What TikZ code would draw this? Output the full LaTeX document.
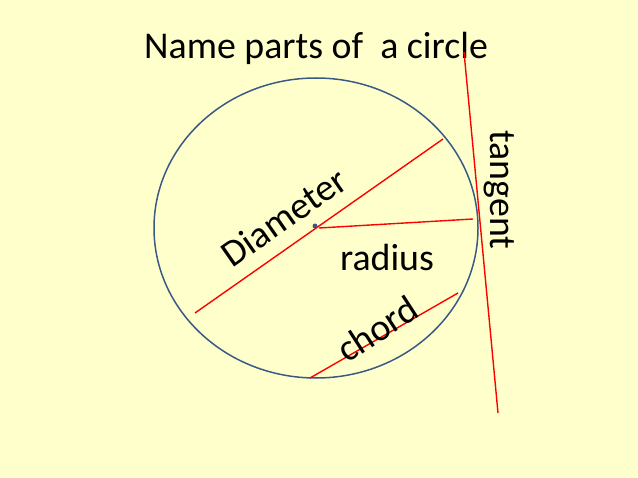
\documentclass[tikz,border=0pt]{standalone}
\usepackage{fontspec}
\setmainfont{Carlito}
\definecolor{paper}{HTML}{FFFFCC}
\definecolor{rim}{HTML}{3A5A86}

\begin{document}
\begin{tikzpicture}[x=1bp,y=-1bp,
  redline/.style={draw=red, line width=1.4bp},
  partname/.style={font=\fontsize{38}{42}\selectfont, inner sep=0pt}]
  \fill[paper] (0,0) rectangle (638,478);
  \useasboundingbox (0,0) rectangle (638,478);

% title
  \node[partname] (title) at (316,48) {Name parts of~ a circle};

% the circle and its centre
  \coordinate (centre) at (316,228);
  \draw[rim, line width=1.5bp] (centre) ellipse [x radius=162, y radius=150];
  \fill[rim] (315,226) circle (2.5);

% end points of the lines
  \coordinate (diamA) at (195,313);
  \coordinate (diamB) at (443,139);
  \coordinate (radA) at (319,228);
  \coordinate (radB) at (473,219);
  \coordinate (chordA) at (310,378);
  \coordinate (chordB) at (458,293);
  \coordinate (tanA) at (464,52);
  \coordinate (tanB) at (498,413);

  \draw[redline] (diamA) -- (diamB);
  \draw[redline] (radA) -- (radB);
  \draw[redline] (chordA) -- (chordB);
  \draw[redline] (tanA) -- (tanB);

% labels
  \node[partname, rotate=35] (diameter) at (284,217) {Diameter};
  \node[partname] (radius) at (387,257) {radius};
  \node[partname, rotate=33] (chord) at (377,329) {chord};
  \node[partname, rotate=-90] (tangent) at (499,190) {tangent};
\end{tikzpicture}
\end{document}
